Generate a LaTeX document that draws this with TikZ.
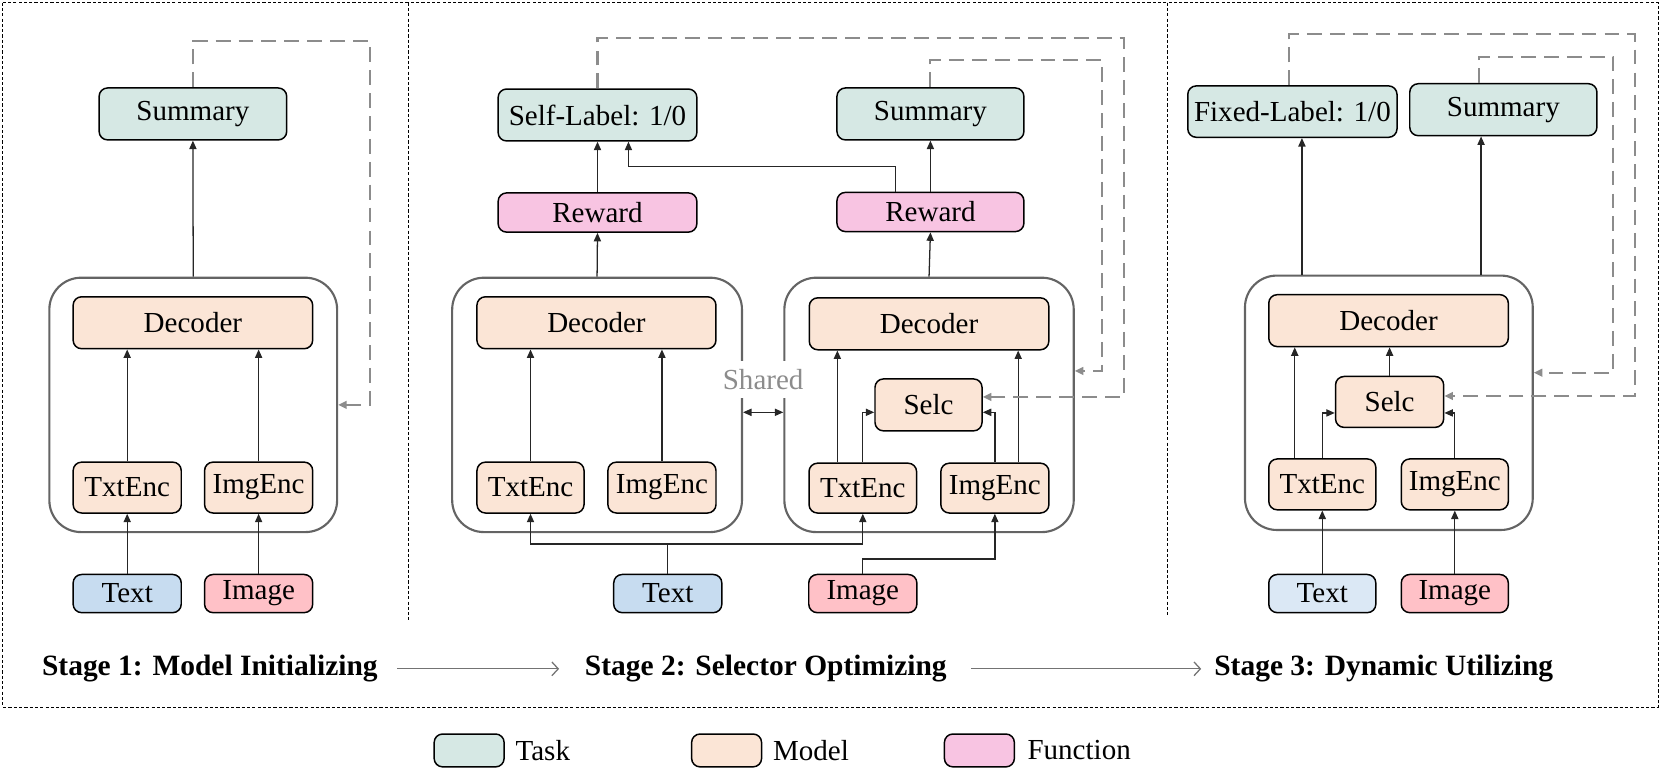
\documentclass[tikz,border=0pt]{standalone}
\usepackage{fontspec}
\setmainfont{LiberationSerif}[Extension=.ttf, UprightFont=*-Regular, BoldFont=*-Bold, ItalicFont=*-Italic, BoldItalicFont=*-BoldItalic]
\usetikzlibrary{arrows.meta,calc}
\definecolor{taskc}{RGB}{214,232,228}
\definecolor{modelc}{RGB}{251,229,214}
\definecolor{funcc}{RGB}{248,196,226}
\definecolor{textc}{RGB}{199,220,240}
\definecolor{textlc}{RGB}{219,232,245}
\definecolor{imgc}{RGB}{255,193,199}
\definecolor{fbgray}{RGB}{140,140,140}
\definecolor{contgray}{RGB}{100,100,100}
\newcommand\boxfont{\fontsize{13.7}{16}\selectfont}
\newcommand\stagefont{\fontsize{13.9}{16}\selectfont\bfseries}
\begin{document}
\begin{tikzpicture}[x=0.5pt,y=-0.5pt,
  bx/.style={draw=black, line width=0.7pt, rounded corners=4pt, inner sep=0pt, font=\boxfont},
  wh/.style 2 args={minimum width=#1*0.5pt, minimum height=#2*0.5pt},
  cont/.style={draw=contgray, line width=1pt, rounded corners=15pt, inner sep=0pt},
  arr/.style={draw=black!85, line width=0.6pt, -{Triangle[length=4pt,width=3.4pt]}},
  dbl/.style={draw=black!85, line width=0.6pt, {Triangle[length=4pt,width=3.4pt]}-{Triangle[length=4pt,width=3.4pt]}},
  fb/.style={draw=fbgray, line width=1pt, dash pattern=on 7pt off 3.8pt, -{Triangle[length=4pt,width=3.6pt]}},
  frame/.style={draw=black, line width=0.45pt, dash pattern=on 1.5pt off 1pt},
  stagearr/.style={draw=black!55, line width=0.6pt, -{Straight Barb[length=3pt,width=6.5pt]}},
  lab/.style={inner sep=0pt, font=\boxfont},
  stg/.style={inner sep=0pt, font=\stagefont}
]
\useasboundingbox (0,0) rectangle (1568,725.5);
% frame
\draw[frame] (2.5,2.5) rectangle (1564.5,667);
\draw[frame] (385,2.5) -- (385,585);
\draw[frame] (1101,2.5) -- (1101,582);

% ---------------- Stage 1
\node[cont, wh={271.5}{240}] (s1cont) at (182.3,382) {};
\node[bx, fill=taskc, wh={177}{49}] (s1sum) at (182,107.5) {Summary};
\node[bx, fill=modelc, wh={226}{49}] (s1dec) at (182,304.5) {Decoder};
\node[bx, fill=modelc, wh={102}{48}] (s1txe) at (120,460) {TxtEnc};
\node[bx, fill=modelc, wh={102}{48}] (s1ime) at (244,460) {ImgEnc};
\node[bx, fill=textc, wh={102}{36}] (s1txt) at (120,560) {Text};
\node[bx, fill=imgc, wh={102}{36}] (s1img) at (244,560) {Image};
\draw[arr] (s1txt) -- (s1txe);
\draw[arr] (s1img) -- (s1ime);
\draw[arr] (s1txe.north) -- (s1txe.north |- s1dec.south);
\draw[arr] (s1ime.north) -- (s1ime.north |- s1dec.south);
\draw[arr] (s1cont.north) -- (s1sum.south);
\coordinate (s1fa) at (349,39);
\draw[fb] (s1sum.north) |- (s1fa) |- (s1cont.east);

% ---------------- Stage 2
\node[cont, wh={273.4}{240}] (s2contL) at (563.3,382) {};
\node[cont, wh={273}{240}] (s2contR) at (876.5,382) {};
\node[bx, fill=taskc, wh={187.5}{49}] (s2lab) at (563.7,108.5) {Self-Label: 1/0};
\node[bx, fill=funcc, wh={187.5}{37}] (s2rwL) at (563.7,200.5) {Reward};
\node[bx, fill=modelc, wh={225.5}{49}] (s2decL) at (562.7,304.5) {Decoder};
\node[bx, fill=modelc, wh={101}{48}] (s2txeL) at (500.5,460) {TxtEnc};
\node[bx, fill=modelc, wh={102}{48}] (s2imeL) at (624.5,460) {ImgEnc};
\node[bx, fill=taskc, wh={176.4}{49}] (s2sum) at (877.8,107.5) {Summary};
\node[bx, fill=funcc, wh={176.4}{37}] (s2rwR) at (877.8,200) {Reward};
\node[bx, fill=modelc, wh={226}{49}] (s2decR) at (876.5,305.5) {Decoder};
\node[bx, fill=modelc, wh={101}{49}] (s2selc) at (876,382) {Selc};
\node[bx, fill=modelc, wh={101.5}{47}] (s2txeR) at (814,460.5) {TxtEnc};
\node[bx, fill=modelc, wh={102}{47}] (s2imeR) at (938.6,460.5) {ImgEnc};
\node[bx, fill=textc, wh={102}{36}] (s2txt) at (630,560) {Text};
\node[bx, fill=imgc, wh={102}{36}] (s2img) at (814,560) {Image};
\node[lab, fill=white, text=fbgray, inner ysep=4pt] (shared) at (720,358) {Shared};
\draw[dbl] ([yshift=-3.5pt]s2contL.east) -- ([yshift=-3.5pt]s2contR.west);

\draw[arr] (s2contL.north) -- (s2rwL.south);
\draw[arr] (s2rwL.north) -- (s2lab.south);
\draw[arr] (s2txeL.north) -- (s2txeL.north |- s2decL.south);
\draw[arr] (s2imeL.north) -- (s2imeL.north |- s2decL.south);
\draw[arr] (s2contR.north) -- (s2rwR.south);
\draw[arr] (s2rwR.north) -- (s2sum.south);
\draw[arr] ([xshift=-16.5pt]s2rwR.north) -- ++(0,-24) -| ([xshift=14.6pt]s2lab.south);
\draw[arr] ([xshift=-12pt]s2txeR.north) -- ([xshift=-12pt]s2txeR.north |- s2decR.south);
\draw[arr] (s2txeR.north) |- ([yshift=-3.5pt]s2selc.west);
\draw[arr] (s2imeR.north) |- ([yshift=-3.5pt]s2selc.east);
\draw[arr] ([xshift=11pt]s2imeR.north) -- ([xshift=11pt]s2imeR.north |- s2decR.south);
\draw[arr] (s2txt.north) -- ++(0,-28) -| (s2txeL.south);
\draw[arr] (s2txt.north) -- ++(0,-28) -| (s2txeR.south);
\draw[arr] (s2img.north) -- ++(0,-14) -| (s2imeR.south);
\coordinate (s2fa) at (1060,36);
\coordinate (s2fb) at (1039.6,56.6);
\draw[fb] (s2lab.north) |- (s2fa) |- ([yshift=3.75pt]s2selc.east);
\draw[fb] (s2sum.north) |- (s2fb) |- ([yshift=16pt]s2contR.east);

% ---------------- Stage 3
\node[cont, wh={271.5}{240}] (s3cont) at (1310.3,380) {};
\node[bx, fill=taskc, wh={197.4}{48.5}] (s3lab) at (1219.3,105.3) {Fixed-Label: 1/0};
\node[bx, fill=taskc, wh={176.6}{49}] (s3sum) at (1418.3,103.5) {Summary};
\node[bx, fill=modelc, wh={226}{49}] (s3dec) at (1310,302.5) {Decoder};
\node[bx, fill=modelc, wh={102}{48}] (s3selc) at (1311,379.2) {Selc};
\node[bx, fill=modelc, wh={101}{48}] (s3txe) at (1247.5,457) {TxtEnc};
\node[bx, fill=modelc, wh={101}{48}] (s3ime) at (1372.5,457) {ImgEnc};
\node[bx, fill=textlc, wh={101}{36}] (s3txt) at (1247.5,560) {Text};
\node[bx, fill=imgc, wh={101}{36}] (s3img) at (1372.5,560) {Image};
\draw[arr] ([xshift=4.5pt]s3lab.south |- s3cont.north) -- ([xshift=4.5pt]s3lab.south);
\draw[arr] ([xshift=-10.5pt]s3sum.south |- s3cont.north) -- ([xshift=-10.5pt]s3sum.south);
\draw[arr] ([xshift=-13pt]s3txe.north) -- ([xshift=-13pt]s3txe.north |- s3dec.south);
\draw[arr] (s3txe.north) |- ([yshift=-5.2pt]s3selc.west);
\draw[arr] (s3ime.north) |- ([yshift=-5.2pt]s3selc.east);
\draw[arr] (s3selc.north) -- (s3selc.north |- s3dec.south);
\draw[arr] (s3txt) -- (s3txe);
\draw[arr] (s3img) -- (s3ime);
\coordinate (s3fa) at (1542.5,32.4);
\coordinate (s3fb) at (1522,53.5);
\draw[fb] ([xshift=-1.6pt]s3lab.north) |- (s3fa) |- ([yshift=2.8pt]s3selc.east);
\draw[fb] ([xshift=-11.6pt]s3sum.north) |- (s3fb) |- ([yshift=14.2pt]s3cont.east);

% ---------------- Stage labels
\node[stg] (st1) at (198,631) {Stage 1: Model Initializing};
\node[stg] (st2) at (722.5,631) {Stage 2: Selector Optimizing};
\node[stg] (st3) at (1305.5,631) {Stage 3: Dynamic Utilizing};
\draw[stagearr] ([xshift=9pt]st1.east) -- ([xshift=-12pt]st2.west);
\draw[stagearr] ([xshift=11.5pt]st2.east) -- ([xshift=-6pt]st3.west);

% ---------------- Legend
\node[bx, fill=taskc, wh={66}{31}] (lg1) at (442.6,708) {};
\node[lab, anchor=west] (lg1t) at (486,708) {Task};
\node[bx, fill=modelc, wh={66}{31}] (lg2) at (685.5,708) {};
\node[lab, anchor=west] (lg2t) at (729,708) {Model};
\node[bx, fill=funcc, wh={66}{31}] (lg3) at (924,708) {};
\node[lab, anchor=west] (lg3t) at (969,708) {Function};
\end{tikzpicture}
\end{document}
